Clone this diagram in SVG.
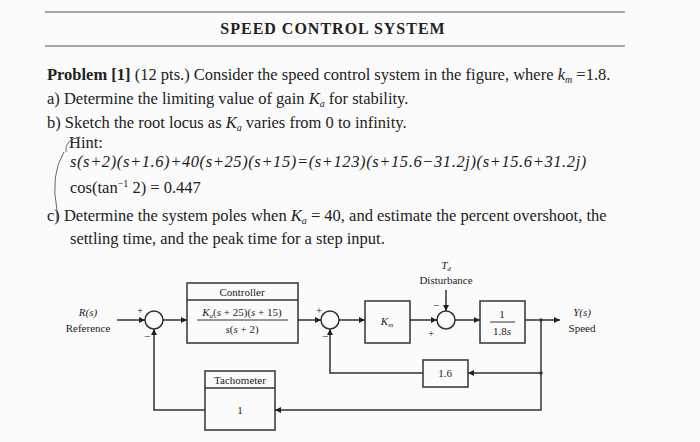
<svg xmlns="http://www.w3.org/2000/svg" width="700" height="442" viewBox="0 0 700 442">
<defs>
<marker id="ar" viewBox="0 0 10 10" refX="10" refY="5" markerWidth="7" markerHeight="6" orient="auto" markerUnits="userSpaceOnUse"><path d="M0,0 L10,5 L0,10 z" fill="#222"/></marker>
</defs>
<style>
text{font-family:"Liberation Serif","Times New Roman",serif;fill:#222}
.t{font-size:16.5px}
.d{font-size:11px}
.bx{fill:none;stroke:#333;stroke-width:1.5}
.ln{fill:none;stroke:#333;stroke-width:1.5}
.ar{marker-end:url(#ar)}
</style>
<rect width="700" height="442" fill="#fbfbfb"/>
<line x1="45" y1="12" x2="625" y2="12" stroke="#555"/>
<line x1="45" y1="46" x2="625" y2="46" stroke="#555"/>
<text x="333" y="34" text-anchor="middle" font-size="16" font-weight="bold" letter-spacing="1">SPEED CONTROL SYSTEM</text>
<text class="t" x="47" y="80"><tspan font-weight="bold">Problem [1]</tspan> (12 pts.) Consider the speed control system in the figure, where  <tspan font-style="italic">k</tspan><tspan font-size="10" font-style="italic" dy="3">m</tspan><tspan dy="-3"> =1.8.</tspan></text>
<text class="t" x="47" y="104">a)  Determine the limiting value of gain  <tspan font-style="italic">K</tspan><tspan font-size="10" font-style="italic" dy="3">a</tspan><tspan dy="-3">  for stability.</tspan></text>
<text class="t" x="47" y="128">b)  Sketch the root locus as  <tspan font-style="italic">K</tspan><tspan font-size="10" font-style="italic" dy="3">a</tspan><tspan dy="-3">  varies from 0 to infinity.</tspan></text>
<text class="t" x="69" y="148">Hint:</text>
<text class="t" x="70" y="167" font-style="italic" letter-spacing="0.6">s(s+2)(s+1.6)+40(s+25)(s+15)=(s+123)(s+15.6−31.2j)(s+15.6+31.2j)</text>
<text class="t" x="70" y="193">cos(tan<tspan font-size="10" dy="-6">−1</tspan><tspan dy="6"> 2) = 0.447</tspan></text>
<path d="M80,137 Q64,140 66,152 M64,152 Q50,175 57,210 L57,222" fill="none" stroke="#666" stroke-width="1"/>
<text class="t" x="47" y="221">c)  Determine the system poles when  <tspan font-style="italic">K</tspan><tspan font-size="10" font-style="italic" dy="3">a</tspan><tspan dy="-3"> = 40, and estimate the percent overshoot, the</tspan></text>
<text class="t" x="70" y="244">settling time, and the peak time for a step input.</text>

<g id="labels">
<text class="d" x="88" y="316" text-anchor="middle" font-style="italic">R(s)</text>
<text class="d" x="88" y="332" text-anchor="middle">Reference</text>
<text class="d" x="446" y="269" text-anchor="middle" font-style="italic">T<tspan font-size="7" dy="2">d</tspan></text>
<text class="d" x="446" y="284" text-anchor="middle">Disturbance</text>
<text class="d" x="582" y="316" text-anchor="middle" font-style="italic">Y(s)</text>
<text class="d" x="582" y="332" text-anchor="middle">Speed</text>
</g>
<g id="sum1"><circle cx="154" cy="320" r="9" class="bx"/><text class="d" x="137" y="314">+</text><text class="d" x="144" y="340">−</text></g>
<g id="sum2"><circle cx="330" cy="320" r="9" class="bx"/><text class="d" x="316" y="314">+</text><text class="d" x="322" y="340">−</text></g>
<g id="sum3"><circle cx="446" cy="320" r="9" class="bx"/><text class="d" x="433" y="309">−</text><text class="d" x="428" y="337">+</text></g>
<g id="controller">
<rect x="187" y="283" width="111" height="60" class="bx"/>
<line x1="187" y1="300" x2="298" y2="300" class="ln"/>
<text class="d" x="242" y="296" text-anchor="middle">Controller</text>
<text class="d" x="242" y="316" text-anchor="middle"><tspan font-style="italic">K</tspan><tspan font-size="7" font-style="italic" dy="2">a</tspan><tspan dy="-2">(</tspan><tspan font-style="italic">s</tspan> + 25)(<tspan font-style="italic">s</tspan> + 15)</text>
<line x1="197" y1="320" x2="288" y2="320" stroke="#333"/>
<text class="d" x="242" y="333" text-anchor="middle"><tspan font-style="italic">s</tspan>(<tspan font-style="italic">s</tspan> + 2)</text>
</g>
<g id="km"><rect x="365" y="301" width="45" height="42" class="bx"/><text class="d" x="387" y="325" text-anchor="middle" font-style="italic">K<tspan font-size="7" dy="2">m</tspan></text></g>
<g id="plant"><rect x="480" y="301" width="45" height="42" class="bx"/>
<text class="d" x="502" y="318" text-anchor="middle">1</text><line x1="490" y1="322" x2="515" y2="322" stroke="#333"/>
<text class="d" x="502" y="335" text-anchor="middle">1.8<tspan font-style="italic">s</tspan></text></g>
<g id="gain16"><rect x="423" y="360" width="45" height="27" class="bx"/><text class="d" x="445" y="377" text-anchor="middle">1.6</text></g>
<g id="tacho"><rect x="205" y="371" width="70" height="59" class="bx"/>
<line x1="205" y1="388" x2="275" y2="388" class="ln"/>
<text class="d" x="240" y="384" text-anchor="middle">Tachometer</text>
<text class="d" x="240" y="414" text-anchor="middle">1</text></g>

<g id="connectors">
<line x1="117" y1="320" x2="145" y2="320" class="ln ar"/>
<line x1="163" y1="320" x2="187" y2="320" class="ln ar"/>
<line x1="298" y1="320" x2="321" y2="320" class="ln ar"/>
<line x1="339" y1="320" x2="365" y2="320" class="ln ar"/>
<line x1="410" y1="320" x2="437" y2="320" class="ln ar"/>
<line x1="446" y1="290" x2="446" y2="311" class="ln ar"/>
<line x1="455" y1="320" x2="480" y2="320" class="ln ar"/>
<line x1="525" y1="320" x2="560" y2="320" class="ln ar"/>
<polyline points="541,320 541,373 468,373" class="ln ar"/>
<polyline points="423,373 330,373 330,329" class="ln ar"/>
<polyline points="541,373 541,410 275,410" class="ln ar"/>
<polyline points="205,410 154,410 154,329" class="ln ar"/>
<circle cx="541" cy="320" r="1.8" fill="#333"/>
<circle cx="541" cy="373" r="1.8" fill="#333"/>
</g>
</svg>
